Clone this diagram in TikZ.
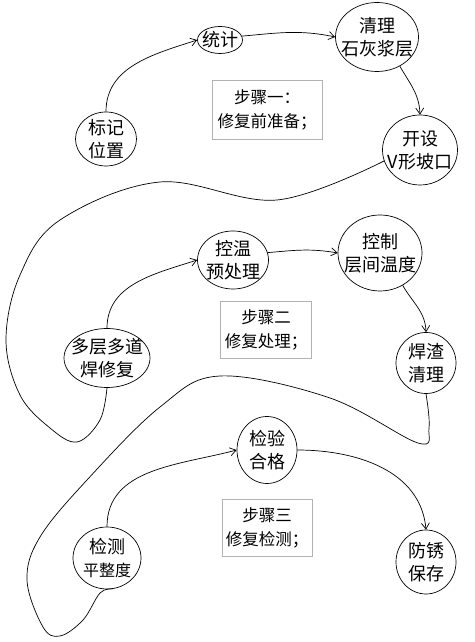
\documentclass[tikz,border=0pt]{standalone}
\usepackage{fontspec}
\setmainfont{Noto Sans CJK SC}
\usetikzlibrary{arrows.meta,shapes.geometric}
\begin{document}
\begin{tikzpicture}[x=1pt,y=1pt,
  proc/.style={draw,ellipse,inner sep=0pt,line width=0.7pt},
  txt/.style={align=center,inner sep=0pt,font=\fontsize{18}{23}\selectfont},
  stepbox/.style={draw=gray!60,inner sep=0pt,align=center,font=\fontsize{16.5}{24}\selectfont},
  link/.style={-{Straight Barb[length=6pt,width=8pt]},line width=0.7pt},
  wave/.style={line width=0.7pt}]
\useasboundingbox (0,0) rectangle (474,642);
\node[proc,minimum width=61,minimum height=54,label={[txt]center:标记\\位置}] (biaoji) at (106,503) {};
\node[proc,minimum width=45,minimum height=27,label={[txt]center:统计}] (tongji) at (220,602) {};
\node[proc,minimum width=83,minimum height=69,label={[txt]center:清理\\石灰浆层}] (qingli) at (377,605) {};
\node[proc,minimum width=75,minimum height=70,label={[txt]center:开设\\V形坡口}] (kaishe) at (420,492) {};
\node[stepbox,minimum width=110,minimum height=59] (buzhou1) at (267,532) {步骤一：\\修复前准备；};

\node[proc,minimum width=86,minimum height=59,label={[txt]center:多层多道\\焊修复}] (duoceng) at (107,284) {};
\node[proc,minimum width=71,minimum height=58,label={[txt]center:控温\\预处理}] (kongwen) at (233,382) {};
\node[proc,minimum width=84,minimum height=76,label={[txt]center:控制\\层间温度}] (kongzhi) at (380,389) {};
\node[proc,minimum width=60,minimum height=61,label={[txt]center:焊渣\\清理}] (hanzha) at (426,279) {};
\node[stepbox,minimum width=91,minimum height=57] (buzhou2) at (266,312) {步骤二\\修复处理；};

\node[proc,minimum width=68,minimum height=62,label={[txt]center:检测\\{\fontsize{16}{20}\selectfont 平整度}}] (jiance) at (107,84) {};
\node[proc,minimum width=60,minimum height=67,label={[txt]center:检验\\合格}] (jianyan) at (267,192) {};
\node[proc,minimum width=60,minimum height=64,label={[txt]center:防锈\\保存}] (fangxiu) at (426,80) {};
\node[stepbox,minimum width=90,minimum height=57] (buzhou3) at (267,114) {步骤三\\修复检测；};

\draw[link] (biaoji.north) to[out=90,in=198] (tongji.west);
\draw[link] (tongji.10) to[out=5,in=168] (qingli.west);
\draw[link] (qingli.-52) to[out=-60,in=92] (kaishe.north);
\draw[wave] plot[smooth,tension=0.6] coordinates {(kaishe.197) (277,442) (160,460) (60,422) (20,367) (6,302) (20,247) (50,214) (77,200) (100,222) (duoceng.south)};

\draw[link] (duoceng.north) to[out=90,in=198] (kongwen.west);
\draw[link] (kongwen.12) to[out=5,in=170] (kongzhi.west);
\draw[link] (kongzhi.-55) to[out=-60,in=92] (hanzha.north);
\draw[wave] plot[smooth,tension=0.6] coordinates {(hanzha.south) (429,214) (418,199) (330,244) (220,266) (160,235) (87,162) (40,105) (27,62) (43,15) (60,6) (83,22) (100,49) (jiance.-80)};

\draw[link] (jiance.north) to[out=90,in=195] (jianyan.west);
\draw[link] (jianyan.east) to[out=0,in=95] (fangxiu.north);
\end{tikzpicture}
\end{document}
